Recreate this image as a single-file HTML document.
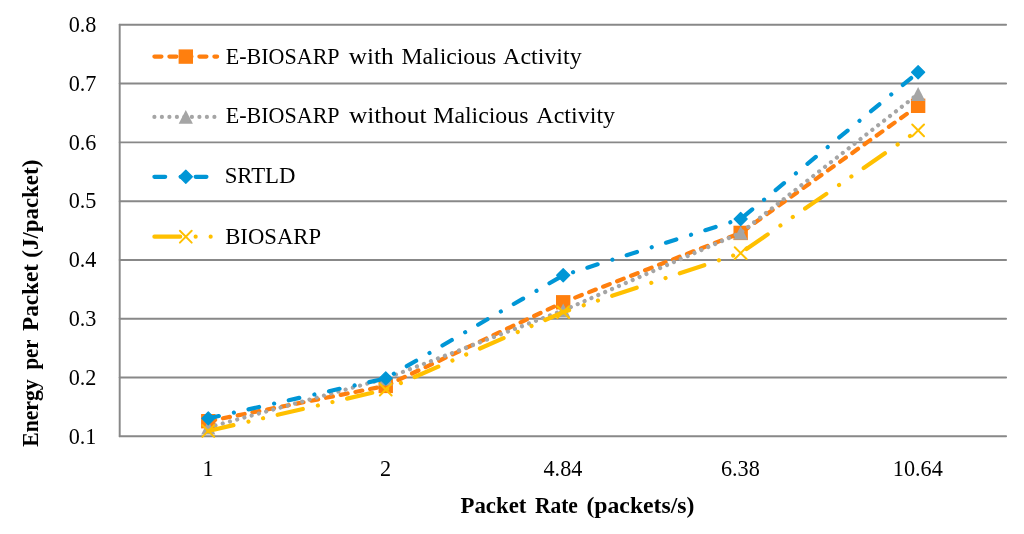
<!DOCTYPE html>
<html lang="en"><head><meta charset="utf-8"><title>Energy per Packet vs Packet Rate</title>
<style>html,body{margin:0;padding:0;background:#fff}body{width:1024px;height:534px;overflow:hidden}svg{display:block}text{font-family:"Liberation Serif",serif;fill:#000}.t{font-size:22.2px}.b{font-size:23px;font-weight:bold}.l{font-size:23.7px}</style></head><body>
<svg width="1024" height="534" viewBox="0 0 1024 534">
<rect width="1024" height="534" fill="#fff"/>
<g stroke="#888888" stroke-width="1.95" fill="none" stroke-linecap="round">
<line x1="119.7" y1="24.8" x2="1006.1" y2="24.8"/>
<line x1="119.7" y1="83.59" x2="1006.1" y2="83.59"/>
<line x1="119.7" y1="142.37" x2="1006.1" y2="142.37"/>
<line x1="119.7" y1="201.16" x2="1006.1" y2="201.16"/>
<line x1="119.7" y1="259.94" x2="1006.1" y2="259.94"/>
<line x1="119.7" y1="318.73" x2="1006.1" y2="318.73"/>
<line x1="119.7" y1="377.51" x2="1006.1" y2="377.51"/>
<line x1="119.7" y1="436.3" x2="1006.1" y2="436.3"/>
<line x1="119.7" y1="24.8" x2="119.7" y2="436.3"/>
</g>
<g class="t" text-anchor="end">
<text x="96.4" y="32">0.8</text>
<text x="96.4" y="90.79">0.7</text>
<text x="96.4" y="149.57">0.6</text>
<text x="96.4" y="208.36">0.5</text>
<text x="96.4" y="267.14">0.4</text>
<text x="96.4" y="325.93">0.3</text>
<text x="96.4" y="384.71">0.2</text>
<text x="96.4" y="443.5">0.1</text>
</g>
<g class="t" text-anchor="middle">
<text x="207.98" y="475.6">1</text>
<text x="385.44" y="475.6">2</text>
<text x="562.9" y="475.6">4.84</text>
<text x="740.36" y="475.6">6.38</text>
<text x="917.82" y="475.6">10.64</text>
</g>
<text class="b" y="512.9"><tspan x="460.5" textLength="65.9" lengthAdjust="spacingAndGlyphs">Packet</tspan> <tspan x="534.9" textLength="43" lengthAdjust="spacingAndGlyphs">Rate</tspan> <tspan x="586.4" textLength="108.1" lengthAdjust="spacingAndGlyphs">(packets/s)</tspan></text>
<text class="b" y="0" transform="translate(37.5 446.8) rotate(-90)"><tspan x="0" textLength="67.5" lengthAdjust="spacingAndGlyphs">Energy</tspan> <tspan x="77.3" textLength="29.6" lengthAdjust="spacingAndGlyphs">per</tspan> <tspan x="115.9" textLength="66.8" lengthAdjust="spacingAndGlyphs">Packet</tspan> <tspan x="189.1" textLength="98" lengthAdjust="spacingAndGlyphs">(J/packet)</tspan></text>
<line x1="154.4" y1="56.6" x2="217.1" y2="56.6" stroke="#FF7F0E" stroke-width="4.2" stroke-linecap="round" stroke-dasharray="7.05 7.95"/>
<rect x="178.6" y="49.4" width="14.4" height="14.4" fill="#FF7F0E"/>
<text class="l" y="63.5"><tspan x="225.7" textLength="113.1" lengthAdjust="spacingAndGlyphs">E-BIOSARP</tspan> <tspan x="348.7" textLength="44.9" lengthAdjust="spacingAndGlyphs">with</tspan> <tspan x="401.5" textLength="94.8" lengthAdjust="spacingAndGlyphs">Malicious</tspan> <tspan x="503.1" textLength="78.6" lengthAdjust="spacingAndGlyphs">Activity</tspan></text>
<line x1="154.4" y1="116.9" x2="217.1" y2="116.9" stroke="#A5A5A5" stroke-width="4.2" stroke-linecap="round" stroke-dasharray="0.01 7.49"/>
<polygon points="185.8,110 192.9,123.8 178.7,123.8" fill="#A5A5A5"/>
<text class="l" y="123.4"><tspan x="225.7" textLength="113.1" lengthAdjust="spacingAndGlyphs">E-BIOSARP</tspan> <tspan x="348.9" textLength="77.6" lengthAdjust="spacingAndGlyphs">without</tspan> <tspan x="433.3" textLength="95.1" lengthAdjust="spacingAndGlyphs">Malicious</tspan> <tspan x="536.3" textLength="78.8" lengthAdjust="spacingAndGlyphs">Activity</tspan></text>
<line x1="154.4" y1="176.8" x2="217.1" y2="176.8" stroke="#0096D6" stroke-width="4.2" stroke-linecap="round" stroke-dasharray="10.8 15.45 0.01 14.99"/>
<polygon points="185.8,170.3 192.3,176.8 185.8,183.3 179.3,176.8" fill="#0096D6" stroke="#0096D6" stroke-width="1.3" stroke-linejoin="round"/>
<text class="l" y="183.4"><tspan x="224.7" textLength="70.8" lengthAdjust="spacingAndGlyphs">SRTLD</tspan></text>
<line x1="154.4" y1="236.7" x2="217.1" y2="236.7" stroke="#FFC000" stroke-width="4.2" stroke-linecap="round" stroke-dasharray="25.8 15.45 0.01 14.99 0.01 14.99"/>
<path d="M179.9 230.8L191.7 242.6M191.7 230.8L179.9 242.6" stroke="#FFC000" stroke-width="2" stroke-linecap="round" fill="none"/>
<text class="l" y="243.5"><tspan x="225.2" textLength="95.9" lengthAdjust="spacingAndGlyphs">BIOSARP</tspan></text>
<polyline points="208.28,421.2 385.74,385.9 563.2,302.3 740.66,232.9 918.12,105.8" fill="none" stroke="#FF7F0E" stroke-width="4.2" stroke-linecap="round" stroke-linejoin="round" stroke-dasharray="7.05 7.95"/>
<rect x="201.08" y="414" width="14.4" height="14.4" fill="#FF7F0E"/>
<rect x="378.54" y="378.7" width="14.4" height="14.4" fill="#FF7F0E"/>
<rect x="556" y="295.1" width="14.4" height="14.4" fill="#FF7F0E"/>
<rect x="733.46" y="225.7" width="14.4" height="14.4" fill="#FF7F0E"/>
<rect x="910.92" y="98.6" width="14.4" height="14.4" fill="#FF7F0E"/>
<polyline points="208.28,427.5 385.74,378.5 563.2,310.4 740.66,232.8 918.12,94" fill="none" stroke="#A5A5A5" stroke-width="4.2" stroke-linecap="round" stroke-linejoin="round" stroke-dasharray="0.01 7.49"/>
<polygon points="208.28,420.6 215.38,434.4 201.18,434.4" fill="#A5A5A5"/>
<polygon points="385.74,371.6 392.84,385.4 378.64,385.4" fill="#A5A5A5"/>
<polygon points="563.2,303.5 570.3,317.3 556.1,317.3" fill="#A5A5A5"/>
<polygon points="740.66,225.9 747.76,239.7 733.56,239.7" fill="#A5A5A5"/>
<polygon points="918.12,87.1 925.22,100.9 911.02,100.9" fill="#A5A5A5"/>
<polyline points="208.28,418.4 385.74,378.4 563.2,275.3 740.66,219 918.12,72.3" fill="none" stroke="#0096D6" stroke-width="4.2" stroke-linecap="round" stroke-linejoin="round" stroke-dasharray="10.8 15.45 0.01 14.99"/>
<polygon points="208.28,411.9 214.78,418.4 208.28,424.9 201.78,418.4" fill="#0096D6" stroke="#0096D6" stroke-width="1.3" stroke-linejoin="round"/>
<polygon points="385.74,371.9 392.24,378.4 385.74,384.9 379.24,378.4" fill="#0096D6" stroke="#0096D6" stroke-width="1.3" stroke-linejoin="round"/>
<polygon points="563.2,268.8 569.7,275.3 563.2,281.8 556.7,275.3" fill="#0096D6" stroke="#0096D6" stroke-width="1.3" stroke-linejoin="round"/>
<polygon points="740.66,212.5 747.16,219 740.66,225.5 734.16,219" fill="#0096D6" stroke="#0096D6" stroke-width="1.3" stroke-linejoin="round"/>
<polygon points="918.12,65.8 924.62,72.3 918.12,78.8 911.62,72.3" fill="#0096D6" stroke="#0096D6" stroke-width="1.3" stroke-linejoin="round"/>
<polyline points="208.28,431 385.74,389.6 563.2,312.1 740.66,253.1 918.12,130.4" fill="none" stroke="#FFC000" stroke-width="4.2" stroke-linecap="round" stroke-linejoin="round" stroke-dasharray="25.8 15.45 0.01 14.99 0.01 14.99"/>
<path d="M202.38 425.1L214.18 436.9M214.18 425.1L202.38 436.9" stroke="#FFC000" stroke-width="2" stroke-linecap="round" fill="none"/>
<path d="M379.84 383.7L391.64 395.5M391.64 383.7L379.84 395.5" stroke="#FFC000" stroke-width="2" stroke-linecap="round" fill="none"/>
<path d="M557.3 306.2L569.1 318M569.1 306.2L557.3 318" stroke="#FFC000" stroke-width="2" stroke-linecap="round" fill="none"/>
<path d="M734.76 247.2L746.56 259M746.56 247.2L734.76 259" stroke="#FFC000" stroke-width="2" stroke-linecap="round" fill="none"/>
<path d="M912.22 124.5L924.02 136.3M924.02 124.5L912.22 136.3" stroke="#FFC000" stroke-width="2" stroke-linecap="round" fill="none"/>
</svg></body></html>
